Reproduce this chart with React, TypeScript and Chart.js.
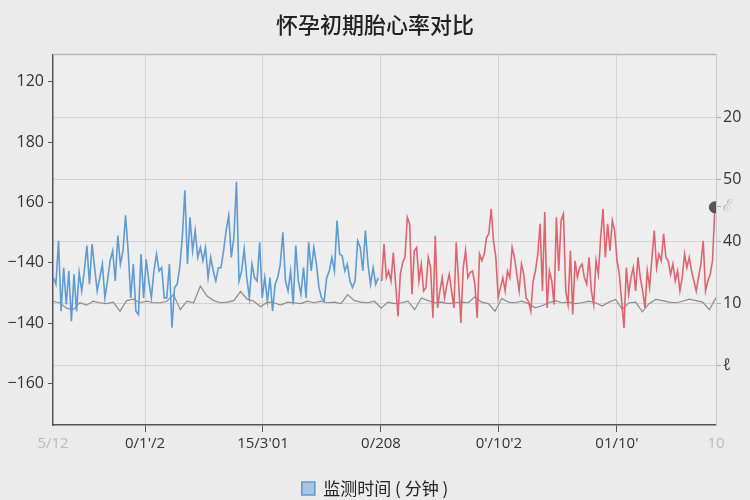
import React, { useEffect, useRef } from "react";
import { Chart, registerables } from "chart.js";

Chart.register(...registerables);

const TITLE = "怀孕初期胎心率对比";
const LEGEND_LABEL = "监测时间 ( 分钟 )";

// x axis (minutes)
const xMin = 2.2;
const xMax = 58.4;
const xTickValues = [2.2, 10, 20, 30, 40, 50, 58.4];
const xTickLabels = ["5/12", "0/1'/2", "15/3'01", "0/208", "0'/10'2", "01/10'", "10"];

// left axis (bpm)
const yMin = 86.33;
const yMax = 209;
const leftTickValues = [100, 120, 140, 160, 180, 200];
const leftTickLabels = ["−160", "−140", "−140", "160", "180", "120"];

// right axis
const rightTickValues = [106, 126.7, 147, 158.7, 167.7, 188];
const rightTickLabels = ["ℓ", "10", "40", "ℰ", "50", "20"];

// blue series: first half of monitoring
const blueStart = 2.23;
const blueStep = 0.2186;
const blueValues = [
  135.1, 132.9, 147.3, 124.0, 138.4, 126.2, 137.3, 120.7, 136.2, 124.0,
  136.8, 130.7, 137.3, 145.7, 132.9, 146.2, 138.4, 130.7, 135.1, 139.6,
  128.4, 134.0, 140.7, 144.0, 134.0, 149.0, 139.6, 144.0, 155.7, 144.0,
  128.4, 139.6, 124.0, 122.9, 142.9, 128.4, 141.2, 134.0, 128.4, 137.3,
  142.9, 137.3, 138.4, 128.4, 128.4, 139.6, 118.5, 131.8, 132.9, 138.4,
  148.4, 164.0, 139.6, 155.1, 144.0, 150.7, 141.8, 145.1, 140.7, 145.1,
  135.1, 141.8, 137.3, 134.0, 138.4, 138.4, 144.0, 150.7, 155.7, 141.8,
  148.4, 166.8, 134.0, 137.3, 144.6, 135.1, 128.4, 139.6, 135.1, 134.0,
  146.8, 128.4, 135.1, 127.3, 135.1, 124.0, 132.9, 135.1, 139.6, 150.1,
  134.0, 130.7, 137.3, 126.2, 145.7, 134.0, 129.6, 138.4, 128.4, 146.8,
  137.3, 145.1, 139.6, 131.8, 128.4, 127.3, 135.1, 137.3, 141.8, 137.3,
  154.0, 142.9, 142.3, 137.3, 139.6, 134.0, 131.8, 134.0, 147.3, 145.1,
  137.3, 150.7, 139.6, 132.9, 138.4, 132.9, 135.1,
];

// red series: second half of monitoring
const redStart = 30.06;
const redStep = 0.1975;
const redValues = [
  134.0, 146.2, 135.1, 137.3, 134.0, 143.4, 132.9, 122.3, 136.2, 140.1,
  141.8, 155.1, 152.9, 129.6, 144.0, 145.1, 134.0, 139.6, 130.7, 131.8,
  141.8, 138.4, 121.8, 149.0, 125.1, 130.7, 135.1, 128.4, 132.9, 136.2,
  130.7, 125.1, 146.8, 134.0, 120.1, 138.4, 144.0, 135.1, 136.8, 137.3,
  132.9, 121.8, 142.9, 140.7, 142.9, 148.4, 149.6, 157.9, 147.3, 141.8,
  128.4, 131.8, 135.1, 130.7, 137.3, 135.1, 145.1, 141.8, 136.2, 130.7,
  139.6, 136.2, 128.4, 127.3, 124.0, 134.0, 137.3, 142.9, 152.9, 130.7,
  156.8, 125.1, 137.3, 134.0, 126.2, 155.1, 137.3, 154.0, 156.2, 130.7,
  126.2, 144.0, 122.9, 140.7, 135.1, 138.4, 139.6, 135.1, 132.9, 141.8,
  130.7, 126.2, 140.7, 136.2, 148.4, 157.9, 141.8, 152.9, 144.0, 154.0,
  150.7, 140.7, 136.2, 127.3, 118.4, 138.4, 129.6, 135.1, 138.4, 130.7,
  141.8, 135.1, 130.7, 125.1, 137.3, 131.8, 141.8, 150.7, 138.4, 142.9,
  140.7, 149.6, 141.8, 140.7, 136.2, 139.6, 134.0, 137.3, 130.7, 135.1,
  142.9, 138.4, 141.8, 137.3, 134.0, 130.7, 135.1, 139.6, 147.3, 130.7,
  134.0, 136.2, 140.7, 158.4,
];

// gray baseline series across the whole session
const grayStart = 2.2;
const grayStep = 0.5677;
const grayValues = [
  127.3, 126.8, 125.0, 124.5, 126.8, 126.0, 127.3, 126.8, 126.5, 127.0,
  124.0, 127.5, 128.0, 126.8, 127.3, 126.8, 126.8, 127.3, 129.5, 124.5,
  127.3, 126.8, 132.3, 129.0, 127.5, 126.8, 127.0, 127.5, 130.5, 128.0,
  127.3, 125.5, 127.0, 126.8, 126.0, 127.0, 126.8, 126.5, 127.3, 126.8,
  127.3, 126.8, 127.0, 126.5, 129.5, 127.5, 127.0, 126.8, 127.3, 125.0,
  127.0, 126.5, 126.8, 127.3, 124.5, 128.4, 127.5, 126.8, 127.0, 126.5,
  126.8, 127.0, 126.8, 128.8, 127.0, 126.5, 124.0, 128.2, 127.0, 126.8,
  127.3, 126.5, 125.1, 125.8, 126.8, 127.5, 126.8, 127.0, 126.5, 126.8,
  127.3, 126.8, 125.7, 127.0, 127.9, 124.6, 126.8, 127.0, 123.8, 126.5,
  127.9, 127.5, 127.0, 126.8, 127.3, 128.0, 127.5, 127.0, 124.5, 128.5,
];

// end marker
const markerTime = 58.3;
const markerValue = 158.4;

const toPoints = (start: number, step: number, values: number[]) =>
  values.map((v, i) => ({ x: start + i * step, y: v }));

const bgPlugin = {
  id: "bgPlugin",
  beforeDraw(chart: any) {
    const { ctx, chartArea } = chart;
    ctx.save();
    ctx.fillStyle = "#ebebeb";
    ctx.fillRect(0, 0, chart.width, chart.height);
    ctx.fillStyle = "#eeeeee";
    ctx.fillRect(chartArea.left, chartArea.top, chartArea.right - chartArea.left, chartArea.bottom - chartArea.top);
    ctx.restore();
  },
  afterDatasetsDraw(chart: any) {
    const { ctx, chartArea } = chart;
    ctx.save();
    ctx.strokeStyle = "#b8b8b8";
    ctx.lineWidth = 1.5;
    ctx.beginPath();
    ctx.moveTo(chartArea.left, chartArea.top);
    ctx.lineTo(chartArea.right, chartArea.top);
    ctx.stroke();
    ctx.restore();
  },
};

const FONT = "'Open Sans', 'Noto Sans', sans-serif";
const CJK = "'Noto Sans CJK SC', sans-serif";

export default function App() {
  const ref = useRef<HTMLCanvasElement | null>(null);

  useEffect(() => {
    if (!ref.current) return;
    const isEdge = (v: number) => v === xMin || v === xMax;
    const chart = new Chart(ref.current, {
      type: "line",
      data: {
        datasets: [
          {
            label: LEGEND_LABEL,
            data: toPoints(blueStart, blueStep, blueValues),
            borderColor: "#5e9bd3",
            backgroundColor: "#a9c5e6",
            borderWidth: 1.6,
            pointRadius: 0,
            tension: 0,
            yAxisID: "y",
            order: 2,
          },
          {
            label: "red",
            data: toPoints(redStart, redStep, redValues),
            borderColor: "#df6470",
            backgroundColor: "#df6470",
            borderWidth: 1.6,
            pointRadius: 0,
            tension: 0,
            yAxisID: "y",
            order: 2,
          },
          {
            label: "gray",
            data: toPoints(grayStart, grayStep, grayValues),
            borderColor: "#8c8c8c",
            backgroundColor: "#8c8c8c",
            borderWidth: 1.2,
            pointRadius: 0,
            tension: 0,
            yAxisID: "y",
            order: 3,
          },
          {
            label: "marker",
            data: [{ x: markerTime, y: markerValue }],
            borderColor: "#555555",
            backgroundColor: "#555555",
            pointRadius: 5.5,
            showLine: false,
            yAxisID: "y",
            order: 1,
          },
        ],
      },
      options: {
        animation: false,
        responsive: true,
        maintainAspectRatio: false,
        layout: { padding: { left: 0, right: 0, top: 0, bottom: -7 } },
        plugins: {
          title: {
            display: true,
            text: TITLE,
            color: "#222222",
            font: { family: CJK, size: 22, weight: "500" },
            padding: { top: 11, bottom: 17 },
          },
          legend: {
            display: true,
            position: "bottom",
            labels: {
              filter: (item: any) => item.datasetIndex === 0,
              color: "#222222",
              font: { family: CJK, size: 17 },
              boxWidth: 13,
              boxHeight: 13,
              padding: 10,
            },
          },
          tooltip: { enabled: false },
        },
        scales: {
          x: {
            type: "linear",
            min: xMin,
            max: xMax,
            afterBuildTicks: (s: any) => {
              s.ticks = xTickValues.map((v) => ({ value: v }));
            },
            afterFit: (s: any) => {
              s.height = 45;
            },
            ticks: {
              autoSkip: false,
              maxRotation: 0,
              padding: 3,
              color: (c: any) => (isEdge(c.tick?.value) ? "#bbbbbb" : "#333333"),
              font: { family: FONT, size: 15 },
              callback: (_v: any, i: number) => xTickLabels[i],
            },
            grid: {
              drawOnChartArea: true,
              color: (c: any) => (isEdge(c.tick?.value) ? "rgba(0,0,0,0)" : "#d4d4d4"),
              tickColor: (c: any) => (isEdge(c.tick?.value) ? "rgba(0,0,0,0)" : "#555555"),
              tickLength: 7,
            },
            border: { display: true, color: "#555555", width: 1.5 },
          },
          y: {
            type: "linear",
            position: "left",
            min: yMin,
            max: yMax,
            afterBuildTicks: (s: any) => {
              s.ticks = leftTickValues.map((v) => ({ value: v }));
            },
            afterFit: (s: any) => {
              s.width = 53;
            },
            ticks: {
              padding: 4,
              color: "#333333",
              font: { family: FONT, size: 16 },
              callback: (_v: any, i: number) => leftTickLabels[i],
            },
            grid: { drawOnChartArea: false, tickLength: 5, tickColor: "#555555" },
            border: { display: true, color: "#555555", width: 1.5 },
          },
          y1: {
            type: "linear",
            position: "right",
            min: yMin,
            max: yMax,
            afterBuildTicks: (s: any) => {
              s.ticks = rightTickValues.map((v) => ({ value: v }));
            },
            afterFit: (s: any) => {
              s.width = 34;
            },
            ticks: {
              padding: 2,
              color: (c: any) => (c.tick?.value === 158.7 ? "#bdbdbd" : "#333333"),
              font: { family: FONT, size: 16 },
              callback: (_v: any, i: number) => rightTickLabels[i],
            },
            grid: {
              drawOnChartArea: true,
              color: (c: any) => (c.tick?.value === 158.7 ? "rgba(0,0,0,0)" : "#d2d2d2"),
              tickColor: "#aaaaaa",
              tickLength: 5,
            },
            border: { display: true, color: "#c8c8c8", width: 1 },
          },
        },
      },
      plugins: [bgPlugin],
    });
    return () => chart.destroy();
  }, []);

  return (
    <div style={{ position: "fixed", left: 0, top: 0, width: 750, height: 500, background: "#ebebeb" }}>
      <canvas ref={ref} width={750} height={500} />
    </div>
  );
}
